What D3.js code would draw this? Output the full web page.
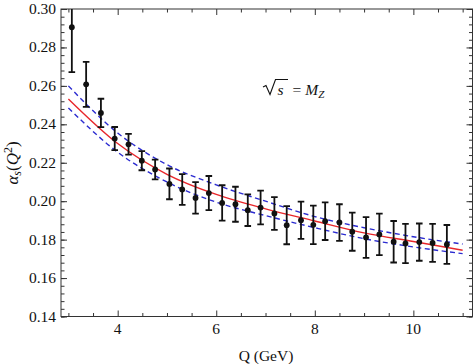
<!DOCTYPE html>
<html>
<head>
<meta charset="UTF-8">
<title>Running coupling alpha_s(Q^2)</title>
<script src="https://d3js.org/d3.v7.min.js"></script>
<style>
body { margin: 0; background: #fff; }
text { font-family: "Liberation Serif", "DejaVu Serif", serif; fill: #111; }
</style>
</head>
<body>
<figure class=chart style="margin:0"></figure>

<script type="text/javascript">

/* Data */
var qPoints = [3.07, 3.36, 3.66, 3.94, 4.22, 4.49, 4.76, 5.05, 5.31, 5.58, 5.85, 6.12, 6.39, 6.64, 6.90,
	7.18, 7.43, 7.72, 7.97, 8.21, 8.50, 8.76, 9.04, 9.31, 9.60, 9.84, 10.12, 10.39, 10.68];
var alphaPoints = [0.2905, 0.2608, 0.2459, 0.2326, 0.2296, 0.2211, 0.2165, 0.2090, 0.2061, 0.2017, 0.2042,
	0.1991, 0.1984, 0.1953, 0.1967, 0.1936, 0.1875, 0.1901, 0.1877, 0.1896, 0.1889, 0.1841, 0.1811,
	0.1827, 0.1789, 0.1780, 0.1787, 0.1783, 0.1775];
var alphaErrors = [0.0233, 0.0117, 0.0074, 0.0060, 0.0054, 0.0050, 0.0051, 0.0080, 0.0080, 0.0082, 0.0089,
	0.0092, 0.0091, 0.0082, 0.0088, 0.0085, 0.0099, 0.0097, 0.0100, 0.0098, 0.0095, 0.0099, 0.0106,
	0.0108, 0.0108, 0.0102, 0.0097, 0.0099, 0.0101];

var qCurve = [3, 4, 5, 6, 7, 8, 9, 10, 11];
var alphaCentral = [0.2532, 0.2300, 0.2140, 0.2035, 0.1960, 0.1897, 0.1835, 0.1790, 0.1745];
var alphaUpper = [0.2600, 0.2355, 0.2190, 0.2085, 0.2000, 0.1920, 0.1862, 0.1815, 0.1777];
var alphaLower = [0.2485, 0.2255, 0.2100, 0.1995, 0.1925, 0.1862, 0.1805, 0.1762, 0.1727];

var xTicks = [4, 6, 8, 10];
var yTicks = [0.14, 0.16, 0.18, 0.20, 0.22, 0.24, 0.26, 0.28, 0.30];

/* Global variables */
var W = 474, H = 364
var pLeft = 61, pRight = 472.5, pTop = 9, pBottom = 316.5
var x = d3.scaleLinear().domain([2.85, 11.2]).range([pLeft, pRight])
var y = d3.scaleLinear().domain([0.14, 0.30]).range([pBottom, pTop])
var frameColor = '#333'

var svg = d3.select('figure')
	.append('svg')
	.attr('width', W)
	.attr('height', H)

/* Functions */

function draw_frame() {
	svg.append('clipPath').attr('id', 'plot')
		.append('rect')
		.attr('x', pLeft).attr('y', pTop)
		.attr('width', pRight - pLeft).attr('height', pBottom - pTop)

	var xMinor = d3.range(3, 11.01, 0.5).filter(function(d) { return xTicks.indexOf(d) < 0; })
	var yMinor = d3.range(0.14, 0.3001, 0.004)

	// ticks point inward on all four sides
	var axes = [
		{ a: d3.axisBottom(x), t: 'translate(0,' + pTop + ')', v: xTicks, s: 6 },
		{ a: d3.axisBottom(x), t: 'translate(0,' + pTop + ')', v: xMinor, s: 3.5 },
		{ a: d3.axisTop(x), t: 'translate(0,' + pBottom + ')', v: xTicks, s: 6 },
		{ a: d3.axisTop(x), t: 'translate(0,' + pBottom + ')', v: xMinor, s: 3.5 },
		{ a: d3.axisRight(y), t: 'translate(' + pLeft + ',0)', v: yTicks, s: 6 },
		{ a: d3.axisRight(y), t: 'translate(' + pLeft + ',0)', v: yMinor, s: 3.5 },
		{ a: d3.axisLeft(y), t: 'translate(' + pRight + ',0)', v: yTicks, s: 6 },
		{ a: d3.axisLeft(y), t: 'translate(' + pRight + ',0)', v: yMinor, s: 3.5 }
	]
	axes.forEach(function(ax) {
		var g = svg.append('g')
			.attr('transform', ax.t)
			.call(ax.a.tickValues(ax.v).tickSize(ax.s).tickFormat(''))
		g.select('.domain').remove()
		g.selectAll('line').attr('stroke', frameColor).attr('stroke-width', 1)
	})

	svg.append('rect')
		.attr('x', pLeft).attr('y', pTop)
		.attr('width', pRight - pLeft).attr('height', pBottom - pTop)
		.attr('fill', 'none')
		.attr('stroke', frameColor)
		.attr('stroke-width', 1)

	svg.selectAll('.xlab')
		.data(xTicks)
		.enter()
		.append('text')
		.attr('x', function(d) { return x(d); })
		.attr('y', 334)
		.attr('text-anchor', 'middle')
		.style('font-size', '15.5px')
		.text(function(d) { return d; })

	svg.selectAll('.ylab')
		.data(yTicks)
		.enter()
		.append('text')
		.attr('x', 56)
		.attr('y', function(d) { return y(d) + 5; })
		.attr('text-anchor', 'end')
		.style('font-size', '15.5px')
		.text(function(d) { return d3.format('.2f')(d); })

	svg.append('text')
		.attr('x', 266)
		.attr('y', 361)
		.attr('text-anchor', 'middle')
		.style('font-size', '15.5px')
		.text('Q (GeV)')

	var ylab = svg.append('text')
		.attr('transform', 'translate(18,163) rotate(-90)')
		.attr('text-anchor', 'middle')
		.style('font-size', '17px')
	ylab.append('tspan').style('font-style', 'italic').text('α')
	ylab.append('tspan').style('font-style', 'italic').style('font-size', '12px').attr('dy', 3).text('s')
	ylab.append('tspan').attr('dy', -3).text('(')
	ylab.append('tspan').style('font-style', 'italic').text('Q')
	ylab.append('tspan').style('font-size', '12px').attr('dy', -6).text('2')
	ylab.append('tspan').attr('dy', 6).text(')')
}

function draw_curves() {
	var line = d3.line()
		.x(function(d) { return x(d[0]); })
		.y(function(d) { return y(d[1]); })
		.curve(d3.curveMonotoneX)

	var bands = [
		{ v: alphaUpper, c: '#2b2bd0', dash: '5,3.5' },
		{ v: alphaLower, c: '#2b2bd0', dash: '5,3.5' },
		{ v: alphaCentral, c: '#e8262a', dash: null }
	]
	bands.forEach(function(b) {
		svg.append('path')
			.datum(d3.zip(qCurve, b.v))
			.attr('d', line)
			.attr('fill', 'none')
			.attr('stroke', b.c)
			.attr('stroke-width', 1.4)
			.attr('stroke-dasharray', b.dash)
	})
}

function draw_points() {
	var data = d3.zip(qPoints, alphaPoints, alphaErrors)
	var g = svg.append('g').attr('clip-path', 'url(#plot)')

	var bars = g.selectAll('.bar')
		.data(data)
		.enter()
		.append('g')

	bars.append('line')
		.attr('x1', function(d) { return x(d[0]); })
		.attr('x2', function(d) { return x(d[0]); })
		.attr('y1', function(d) { return y(d[1] + d[2]); })
		.attr('y2', function(d) { return y(d[1] - d[2]); })
		.attr('stroke', '#111')
		.attr('stroke-width', 1.8)

	;[1, -1].forEach(function(sgn) {
		bars.append('line')
			.attr('x1', function(d) { return x(d[0]) - 3.3; })
			.attr('x2', function(d) { return x(d[0]) + 3.3; })
			.attr('y1', function(d) { return y(d[1] + sgn * d[2]); })
			.attr('y2', function(d) { return y(d[1] + sgn * d[2]); })
			.attr('stroke', '#111')
			.attr('stroke-width', 1.8)
	})

	bars.append('circle')
		.attr('cx', function(d) { return x(d[0]); })
		.attr('cy', function(d) { return y(d[1]); })
		.attr('r', 2.9)
		.attr('fill', '#111')
}

function draw_label() {
	// sqrt(s) = M_Z
	var g = svg.append('g')
	g.append('path')
		.attr('d', 'M263,87 L266,85.5 L270,94.5 L275.5,79.5 L288,79.5')
		.attr('fill', 'none')
		.attr('stroke', '#111')
		.attr('stroke-width', 1.1)
	var t = g.append('text')
		.attr('x', 277.5)
		.attr('y', 94.5)
		.style('font-size', '15.5px')
	t.append('tspan').style('font-style', 'italic').text('s')
	t.append('tspan').attr('dx', 9).text('=')
	t.append('tspan').attr('dx', 4).style('font-style', 'italic').text('M')
	t.append('tspan').attr('dy', 3).style('font-style', 'italic').style('font-size', '11px').text('Z')
}

/* Main code */
draw_frame()
draw_curves()
draw_points()
draw_label()

</script>

</body>
</html>
